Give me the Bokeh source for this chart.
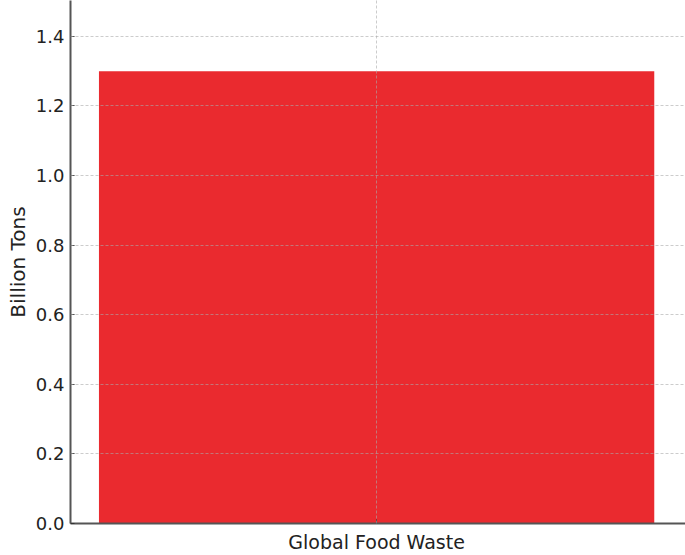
from bokeh.plotting import figure
from bokeh.models import Range1d, FixedTicker, ColumnDataSource, CustomJSTickFormatter
from bokeh.embed import file_html
from bokeh.resources import INLINE

categories = ["Global Food Waste"]
values = [1.3]
y_ticks = [0.0, 0.2, 0.4, 0.6, 0.8, 1.0, 1.2, 1.4]

xs = list(range(len(categories)))
src = ColumnDataSource(data=dict(x=xs, top=values))

p = figure(width=685, height=555, output_backend="svg", toolbar_location=None,
           x_range=Range1d(-0.441, 0.445), y_range=Range1d(0, 1.503),
           min_border_left=70, min_border_right=0, min_border_top=0, min_border_bottom=32)
p.outline_line_color = None
p.background_fill_color = "white"

p.vbar(x="x", top="top", bottom=0, width=0.8, source=src,
       fill_color="#EA2A2F", line_color=None)

p.xaxis.ticker = FixedTicker(ticks=xs)
p.xaxis.major_label_overrides = {i: c for i, c in zip(xs, categories)}
p.yaxis.ticker = FixedTicker(ticks=y_ticks)
p.yaxis.formatter = CustomJSTickFormatter(code="return tick.toFixed(1);")

p.yaxis.axis_label = "Billion Tons"
for ax in (p.xaxis[0], p.yaxis[0]):
    ax.axis_line_color = "#555555"
    ax.axis_line_width = 2
    ax.major_tick_line_color = "#333333"
    ax.major_tick_in = 4
    ax.major_tick_out = 0
    ax.minor_tick_line_color = None
    ax.major_label_text_font = "DejaVu Sans"
    ax.major_label_text_font_size = "18px"
    ax.major_label_text_color = "#222222"
    ax.axis_label_text_font = "DejaVu Sans"
    ax.axis_label_text_font_size = "20px"
    ax.axis_label_text_font_style = "normal"
    ax.axis_label_text_color = "#222222"
p.xaxis.major_label_text_font_size = "19px"
p.yaxis.major_label_standoff = 6
p.xaxis.major_label_standoff = 7
p.yaxis.axis_label_standoff = 3

for g in (p.xgrid[0], p.ygrid[0]):
    g.grid_line_color = "#aaaaaa"
    g.grid_line_alpha = 0.6
    g.grid_line_dash = "3 2"
    g.grid_line_width = 1
    g.level = "overlay"

open("out.html", "w").write(file_html(p, INLINE))
